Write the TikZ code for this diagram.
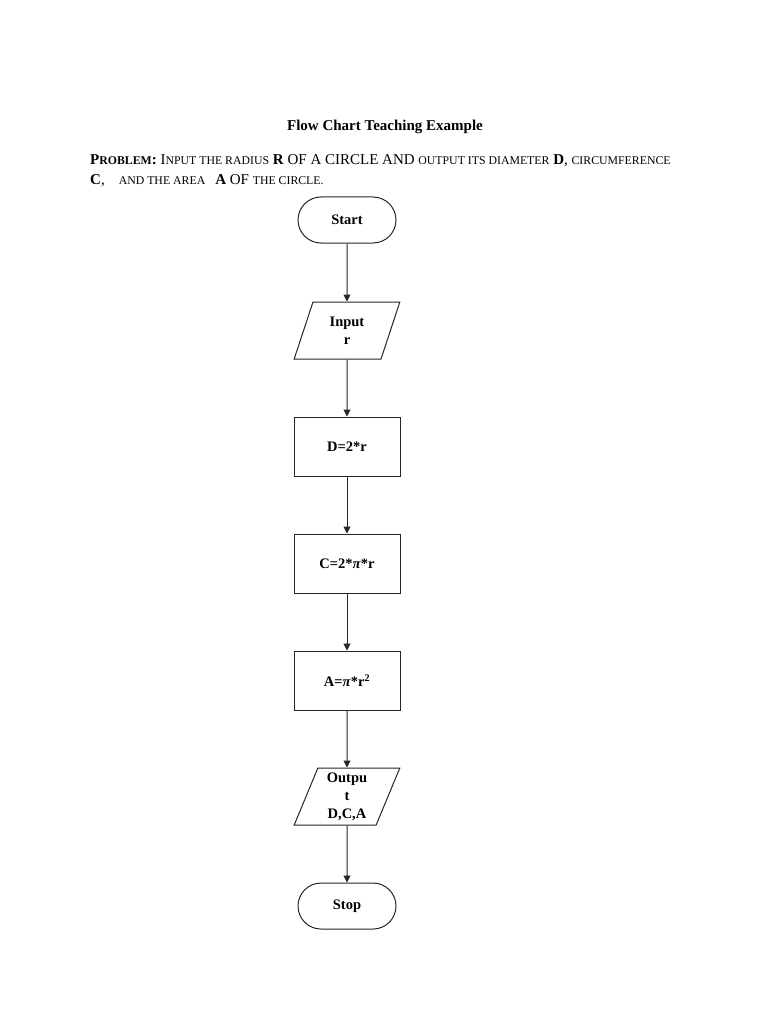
\documentclass[tikz,border=0pt]{standalone}
\usepackage{fontspec}
\setmainfont{Liberation Serif}
\usetikzlibrary{positioning,arrows.meta,shapes.geometric}
\newcommand{\smc}[1]{{\fontsize{11.8}{14}\selectfont #1}}
\tikzset{
  box/.style={draw=black!85, line width=1pt, align=center, font=\fontsize{14.5}{18}\selectfont\bfseries},
  term/.style={box, rounded corners=23pt, minimum width=98pt, minimum height=46pt},
  io/.style={box, trapezium, trapezium left angle=71, trapezium right angle=109, trapezium stretches=true, minimum width=106pt, minimum height=57pt, inner sep=1pt},
  proc/.style={box, minimum width=106pt, minimum height=59pt},
  flow/.style={-{Triangle[length=7pt,width=7pt]}, line width=1pt, black!85}
}
\begin{document}
\begin{tikzpicture}[x=1pt, y=-1pt, node distance=57pt]
  \useasboundingbox (0,0) rectangle (768,1024);
  \node[font=\fontsize{15}{18}\selectfont\bfseries] (title) at (385,127) {Flow Chart Teaching Example};
  \node[anchor=base west, inner sep=0pt, font=\fontsize{15}{18}\selectfont] (prob1) at (90,165)
    {\textbf{P\smc{ROBLEM}:} I\smc{NPUT THE RADIUS} \textbf{R} OF A CIRCLE AND \smc{OUTPUT ITS DIAMETER} \textbf{D}, \smc{CIRCUMFERENCE}};
  \node[anchor=base west, inner sep=0pt, font=\fontsize{15}{18}\selectfont] (prob2) at (90,185)
    {\textbf{C},\hspace{14pt}\smc{AND THE AREA}\hspace{10pt}\textbf{A} OF \smc{THE CIRCLE.}};

  \node[term] (start) at (347,220) {Start};
  \node[io, below=58pt of start] (input) {Input\\r};
  \node[proc, below=of input] (diam) {D=2*r};
  \node[proc, below=of diam] (circ) {C=2*\textit{π}*r};
  \node[proc, below=of circ] (area) {A=\textit{π}*r\textsuperscript{2}};
  \node[io, below=of area] (output) {Outpu\\t\\D,C,A};
  \node[term, below=of output] (stop) {Stop};

  \draw[flow] (start) -- (input);
  \draw[flow] (input) -- (diam);
  \draw[flow] (diam) -- (circ);
  \draw[flow] (circ) -- (area);
  \draw[flow] (area) -- (output);
  \draw[flow] (output) -- (stop);
\end{tikzpicture}
\end{document}
